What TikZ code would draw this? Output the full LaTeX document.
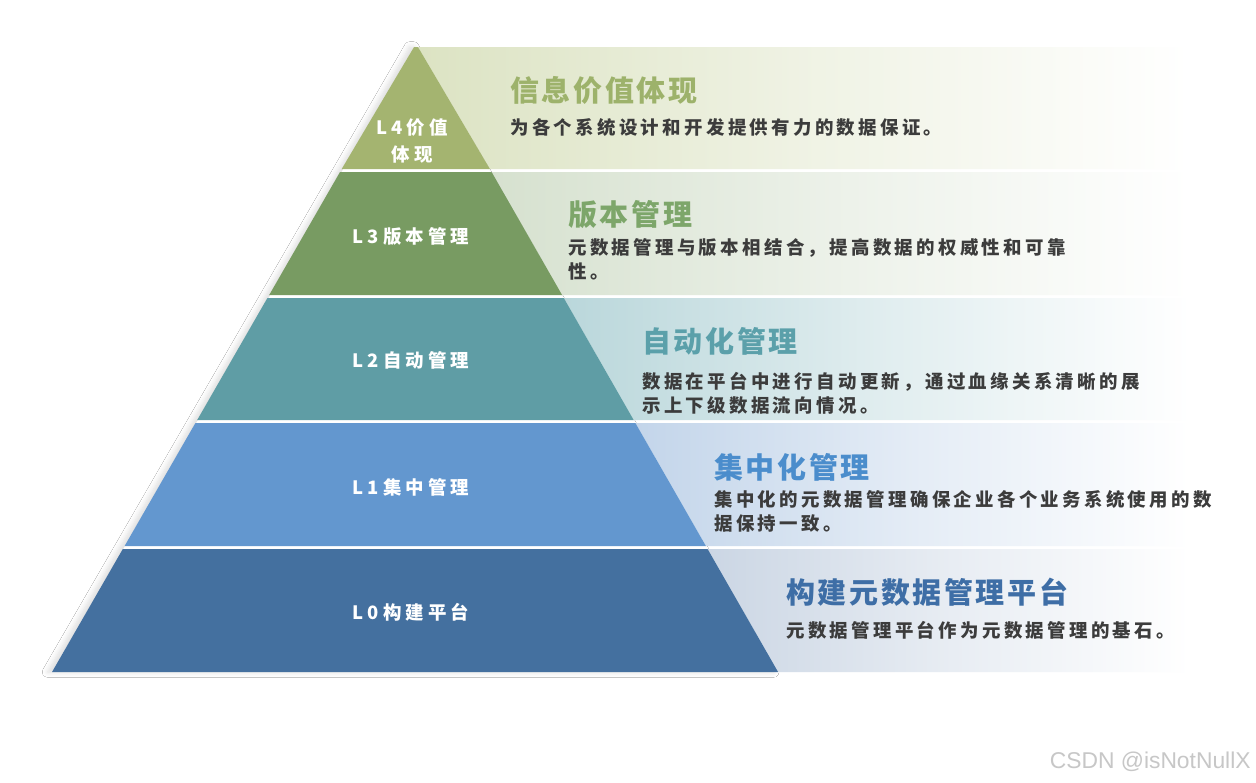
\documentclass[tikz,border=0pt]{standalone}
\usepackage{fontspec}
\usepackage{xcolor}
\usepackage{tikz}
\usetikzlibrary{positioning,shadows.blur}
\setmainfont{Noto Sans CJK SC}
\newfontfamily\cjktitle[LetterSpace=9]{Noto Sans CJK SC}
\newfontfamily\cjkbody[LetterSpace=18]{Noto Sans CJK SC}
\newfontfamily\cjklabel[LetterSpace=22]{Noto Sans CJK SC}
\newfontfamily\latinsans{Liberation Sans}
\definecolor{lvfour}{HTML}{A4B470}
\definecolor{lvthree}{HTML}{789B62}
\definecolor{lvtwo}{HTML}{5F9DA5}
\definecolor{lvone}{HTML}{6397CF}
\definecolor{lvzero}{HTML}{44709F}
\definecolor{bandfour}{HTML}{DCE3C3}
\definecolor{bandthree}{HTML}{D6E1CF}
\definecolor{bandtwo}{HTML}{BAD7DB}
\definecolor{bandone}{HTML}{C3D5EA}
\definecolor{bandzero}{HTML}{CBD6E4}
\definecolor{headfour}{HTML}{9DB26B}
\definecolor{headthree}{HTML}{7DA66A}
\definecolor{headtwo}{HTML}{5BA0AA}
\definecolor{headone}{HTML}{4B8DCC}
\definecolor{headzero}{HTML}{3E6EA6}
\definecolor{bodytext}{HTML}{3C3C3C}
\tikzset{
  pyrshadow/.style={
    fill=white,
    blur shadow={shadow blur steps=6, shadow blur radius=3pt, shadow xshift=-2.5pt, shadow yshift=0pt, shadow opacity=14}
  },
  layer/.style={fill=#1},
  band/.style={left color=#1, right color=white, middle color=#1!45!white},
  tier/.style={font=\cjklabel\bfseries\fontsize{10.5}{15.8}\selectfont, text=white, align=center, inner sep=0pt},
  head/.style={font=\cjktitle\bfseries\fontsize{16.5}{20}\selectfont, anchor=west, inner sep=0pt},
  desc/.style={font=\cjkbody\bfseries\fontsize{10.5}{13.6}\selectfont, text=bodytext, anchor=west, align=left, inner sep=0pt},
  credit/.style={font=\latinsans\fontsize{13}{15}\selectfont, text=black!22, anchor=east, inner sep=0pt}
}

\begin{document}
\begin{tikzpicture}[x=0.02cm,y=-0.02cm]
\useasboundingbox (0,0) rectangle (1256,782);
\fill[white] (0,0) rectangle (1256,782);

% soft shadow on the left of the pyramid
\fill[pyrshadow] (414,47) -- (418,47) -- (778.1,672) -- (52,672) -- cycle;

% bands behind the texts
\shade[band=bandfour] (418,47) -- (1190,47) -- (1190,169) -- (489.9,169) -- cycle;
\shade[band=bandthree] (491.6,172) -- (1190,172) -- (1190,295) -- (562.1,295) -- cycle;
\shade[band=bandtwo] (563.8,298) -- (1190,298) -- (1190,420) -- (633.7,420) -- cycle;
\shade[band=bandone] (635.4,423) -- (1190,423) -- (1190,546) -- (705.9,546) -- cycle;
\shade[band=bandzero] (707.6,549) -- (1190,549) -- (1190,672) -- (778.1,672) -- cycle;

% pyramid
\fill[layer=lvfour] (414,47) -- (418,47) -- (489.9,169) -- (341.7,169) -- cycle;
\fill[layer=lvthree] (340,172) -- (491.6,172) -- (562.1,295) -- (269.2,295) -- cycle;
\fill[layer=lvtwo] (267.4,298) -- (563.8,298) -- (633.7,420) -- (197.2,420) -- cycle;
\fill[layer=lvone] (195.4,423) -- (635.4,423) -- (705.9,546) -- (124.6,546) -- cycle;
\fill[layer=lvzero] (122.8,549) -- (707.6,549) -- (778.1,672) -- (52,672) -- cycle;

\node[tier] (lab4) at (412,141) {L4价值\\体现};
\node[tier] (lab3) at (411,237) {L3版本管理};
\node[tier] (lab2) at (411,360) {L2自动管理};
\node[tier] (lab1) at (411,487) {L1集中管理};
\node[tier] (lab0) at (411,612) {L0构建平台};

% level texts
\node[head, text=headfour] (head4) at (510,90) {信息价值体现};
\node[desc] (desc4) at (510,127) {为各个系统设计和开发提供有力的数据保证。};

\node[head, text=headthree] (head3) at (568,215) {版本管理};
\node[desc] (desc3) at (568,259.5) {元数据管理与版本相结合，提高数据的权威性和可靠\\性。};

\node[head, text=headtwo] (head2) at (642,341) {自动化管理};
\node[desc] (desc2) at (642,393) {数据在平台中进行自动更新，通过血缘关系清晰的展\\示上下级数据流向情况。};

\node[head, text=headone] (head1) at (714,467) {集中化管理};
\node[desc] (desc1) at (714,511) {集中化的元数据管理确保企业各个业务系统使用的数\\据保持一致。};

\node[head, text=headzero] (head0) at (786,592) {构建元数据管理平台};
\node[desc] (desc0) at (786,630) {元数据管理平台作为元数据管理的基石。};

\node[credit] (credit) at (1251,762) {CSDN @isNotNullX};
\end{tikzpicture}
\end{document}
